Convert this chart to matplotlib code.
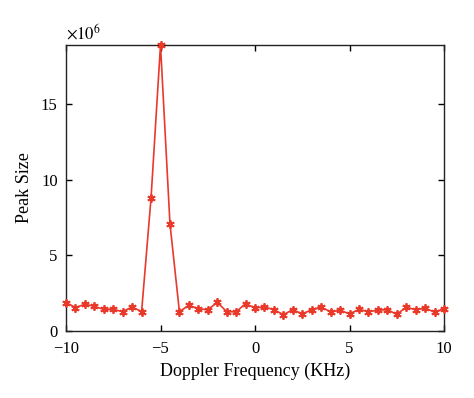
import numpy as np
import matplotlib
matplotlib.use("Agg")
import matplotlib.pyplot as plt

freq = np.arange(-10, 10.01, 0.5)
peak = [1.88, 1.55, 1.77, 1.63, 1.43, 1.43, 1.28, 1.59, 1.28, 8.8, 18.9, 7.1,
        1.28, 1.70, 1.48, 1.39, 1.90, 1.28, 1.26, 1.81,
        1.52, 1.59, 1.41, 1.08, 1.41, 1.13, 1.41, 1.59, 1.26, 1.37, 1.13,
        1.43, 1.28, 1.37, 1.41, 1.10, 1.57, 1.41, 1.52, 1.24, 1.48]
peak = np.array(peak) * 1e6

plt.rcParams['font.family'] = ['Liberation Serif', 'DejaVu Serif']
fig = plt.figure(figsize=(4.74, 3.98), dpi=100)
ax = fig.add_axes([66/474, 1-331/398, (444-66)/474, (331-45)/398])
color = '#e8392a'
ax.plot(freq, peak, color=color, lw=1.2, marker=(6, 2, 0), ms=6, mew=1.3, mec=color,
        clip_on=False, zorder=3)
ax.set_xlim(-10, 10)
ax.set_ylim(0, 18.9e6)
ax.set_xticks([-10, -5, 0, 5, 10])
ax.set_xticklabels(['\u221210', '\u22125', '0', '5', '10'])
ax.set_yticks([0, 5e6, 10e6, 15e6])
ax.set_yticklabels(['0', '5', '10', '15'])
ax.tick_params(direction='in', top=True, right=True, labelsize=12, length=4, width=1, pad=4)
ax.tick_params(axis='x', pad=7)
ax.tick_params(axis='y', pad=6)
for s in ax.spines.values():
    s.set_linewidth(1.0)
    s.set_color('#222222')
ax.text(0, 1.005, r'$\times10^6$', transform=ax.transAxes, fontsize=12, ha='left', va='bottom',
        math_fontfamily='stix')
ax.set_xlabel('Doppler Frequency (KHz)', fontsize=13, labelpad=4)
ax.set_ylabel('Peak Size', fontsize=13, labelpad=6)
fig.savefig('out.png', dpi=100)
